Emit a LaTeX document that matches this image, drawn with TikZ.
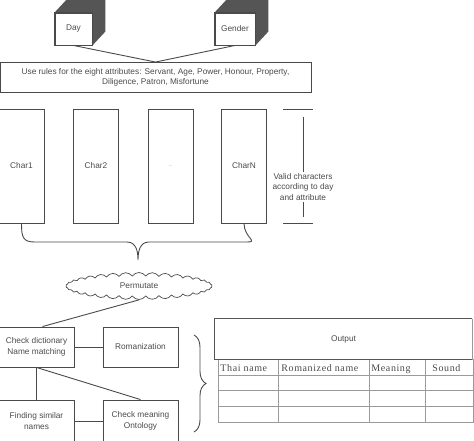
\documentclass[tikz,border=0pt]{standalone}
\usepackage{fontspec}
\setmainfont{Liberation Sans}
\newfontfamily\tabfont{Liberation Serif}[LetterSpace=6]
\usetikzlibrary{shapes.symbols,decorations.pathreplacing}
\definecolor{ln}{HTML}{4A4A4A}
\definecolor{dk}{HTML}{555555}
\definecolor{tl}{HTML}{9A9A9A}
\begin{document}
\begin{tikzpicture}[x=1pt,y=-1pt,line width=0.9pt,color=ln,
  font=\fontsize{8.3}{10.5}\selectfont,
  box/.style={draw,rectangle,inner sep=0pt,align=center},
  cube/.style={box,fill=white},
  hdr/.style={anchor=base west,inner sep=0pt,font=\tabfont\fontsize{10}{11}\selectfont}]
\useasboundingbox (0,0) rectangle (474,440);
\clip (0,0) rectangle (474,440);
% 3D boxes
\node[cube,minimum width=37pt,minimum height=32pt] (day) at (73.5,29) {Day};
\node[cube,minimum width=40pt,minimum height=32pt] (gender) at (235,29) {Gender};
\foreach \n in {day,gender}{
  \fill[dk] (\n.north west) -- ([shift={(13,-14)}]\n.north west) -- ([shift={(13,-14)}]\n.north east)
     -- ([shift={(13,-14)}]\n.south east) -- (\n.south east) -- (\n.north east) -- cycle;
  \draw (\n.north west) rectangle (\n.south east);
}
% rules
\node[box,minimum width=311pt,minimum height=30pt] (rules) at (155.5,77.5)
  {Use rules for the eight attributes: Servant, Age, Power, Honour, Property,\\Diligence, Patron, Misfortune};
\draw (day.south) -- (rules.north);
\draw (gender.south) -- (rules.north);
% characters
\node[box,minimum width=45pt,minimum height=114pt] (c1) at (21.5,166) {Char1};
\node[box,minimum width=45pt,minimum height=114pt] (c2) at (96,166) {Char2};
\node[box,minimum width=45pt,minimum height=114pt,font=\fontsize{5}{6}\selectfont,text=tl] (c3) at (170.5,166) {...};
\node[box,minimum width=45pt,minimum height=114pt] (cN) at (244,166) {CharN};
% dimension
\coordinate (dt1) at (283,109);
\coordinate (dt2) at (313,109);
\coordinate (db1) at (283,223);
\coordinate (db2) at (313,223);
\draw (dt1) -- (dt2);
\draw (db1) -- (db2);
\coordinate (dv1) at (303,117);
\coordinate (dv2) at (303,217);
\draw (dv1) -- (dv2);
\node[fill=white,align=center,inner sep=1pt] (valid) at (303,187) {Valid characters\\according to day\\and attribute};
% brace under chars
\coordinate (bl) at (35,242);
\coordinate (bm1) at (127,242);
\coordinate (btip) at (138,260);
\coordinate (bm2) at (149,242);
\coordinate (br) at (247,242);
\draw (c1.south) .. controls +(0,14) and +(-12,0) .. (bl) -- (bm1)
  .. controls +(9,0) and +(0,-9) .. (btip)
  .. controls +(0,-9) and +(-9,0) .. (bm2) -- (br)
  .. controls +(12,0) and +(0,14) .. (cN.south);
% permutate
\node[draw,cloud,cloud puffs=34,cloud puff arc=110,cloud ignores aspect,
  minimum width=146pt,minimum height=27pt,line width=0.7pt] (perm) at (139,286) {Permutate};
% lower boxes
\node[box,minimum width=75pt,minimum height=40pt] (cd) at (36.5,347) {Check dictionary\\Name matching};
\node[box,minimum width=75pt,minimum height=40pt] (rom) at (140.5,347) {Romanization};
\node[box,minimum width=75pt,minimum height=42pt] (fs) at (36.5,421) {Finding similar\\names};
\node[box,minimum width=75pt,minimum height=42pt] (cm) at (140.5,421) {Check meaning\\Ontology};
\draw (perm.south) -- ([xshift=6pt]cd.north);
\draw (cd.east) -- (rom.west);
\draw (cd.south) -- (fs.north);
\draw (cd.south) -- (cm.north);
\draw (fs.east) -- (cm.west);
% right brace
\coordinate (rb1) at (194,335);
\coordinate (rb2) at (194,432);
\draw[decorate,decoration={brace,amplitude=12pt}] (rb1) -- (rb2);
% output
\node[rectangle,minimum width=257pt,minimum height=40pt,inner sep=0pt] (out) at (343.5,339) {Output};
\draw[dk,line width=1.3pt] (out.north east) -- (out.north west) -- (out.south west) -- (out.south east);
\draw[tl,line width=0.8pt] (out.north east) -- (out.south east);
% table
\begin{scope}[draw=tl,line width=1pt]
\draw (218,359) rectangle (473,422);
\foreach \yy in {375,390,406} \draw (218,\yy) -- (473,\yy);
\foreach \xx in {278,369,425} \draw (\xx,359) -- (\xx,422);
\end{scope}
\draw[dk,line width=1.3pt] (out.south west) -- (out.south east);
\node[hdr] (h1) at (220,371) {Thai name};
\node[hdr] (h2) at (281,371) {Romanized name};
\node[hdr] (h3) at (371,371) {Meaning};
\node[hdr] (h4) at (432,371) {Sound};
\end{tikzpicture}
\end{document}
